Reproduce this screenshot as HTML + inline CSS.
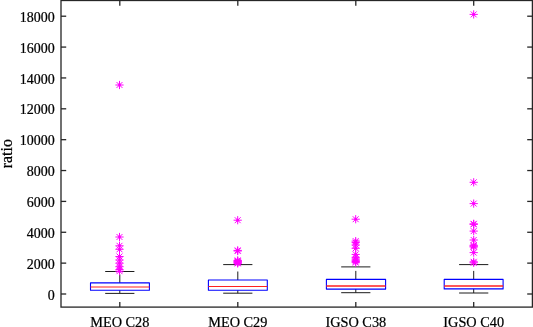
<!DOCTYPE html>
<html><head><meta charset="utf-8"><title>boxplot</title>
<style>html,body{margin:0;padding:0;background:#fff;overflow:hidden}body{width:533px;height:327px;position:relative}</style></head>
<body>
<svg width="533" height="327" viewBox="0 0 533 327" style="position:absolute;left:0;top:0;display:block">
<defs><g id="m" stroke="#ff00ff" stroke-width="1" stroke-linecap="butt" fill="none"><path d="M-4.1 0H4.1M0 -4.1V4.1M-2.95 -2.95L2.95 2.95M-2.95 2.95L2.95 -2.95"/><circle r="1.4" fill="#ff00ff" stroke="none"/></g></defs>
<rect x="0" y="0" width="533" height="327" fill="#fff"/>
<g fill="none" stroke-width="1">
<line x1="119.8" y1="282.9" x2="119.8" y2="271.5" stroke="#1c1c1c" stroke-dasharray="8.5 6"/>
<line x1="119.8" y1="290.3" x2="119.8" y2="293.4" stroke="#1c1c1c" stroke-dasharray="8.5 6"/>
<line x1="105.2" y1="271.5" x2="134.4" y2="271.5" stroke="#1c1c1c"/>
<line x1="105.2" y1="293.4" x2="134.4" y2="293.4" stroke="#1c1c1c"/>
<rect x="90.5" y="282.9" width="58.90" height="7.40" stroke="#0000ff" stroke-width="1.1" stroke-linejoin="round"/>
<line x1="90.5" y1="287.0" x2="149.4" y2="287.0" stroke="#ff2020" stroke-width="1.0"/>
</g>
<use href="#m" x="119.5" y="85.0"/>
<use href="#m" x="119.5" y="237.0"/>
<use href="#m" x="119.5" y="245.8"/>
<use href="#m" x="119.5" y="249.3"/>
<use href="#m" x="119.5" y="256.5"/>
<use href="#m" x="119.5" y="260.0"/>
<use href="#m" x="119.5" y="263.2"/>
<use href="#m" x="119.5" y="266.7"/>
<use href="#m" x="119.5" y="269.6"/>
<use href="#m" x="119.5" y="271.2"/>
<g fill="none" stroke-width="1">
<line x1="237.8" y1="280.0" x2="237.8" y2="264.6" stroke="#1c1c1c" stroke-dasharray="8.5 6"/>
<line x1="237.8" y1="290.3" x2="237.8" y2="293.2" stroke="#1c1c1c" stroke-dasharray="8.5 6"/>
<line x1="223.20000000000002" y1="264.6" x2="252.4" y2="264.6" stroke="#1c1c1c"/>
<line x1="223.20000000000002" y1="293.2" x2="252.4" y2="293.2" stroke="#1c1c1c"/>
<rect x="208.4" y="280.0" width="58.90" height="10.30" stroke="#0000ff" stroke-width="1.1" stroke-linejoin="round"/>
<line x1="208.4" y1="286.5" x2="267.3" y2="286.5" stroke="#ff2020" stroke-width="1.0"/>
</g>
<use href="#m" x="237.7" y="220.2"/>
<use href="#m" x="237.7" y="250.4"/>
<use href="#m" x="237.7" y="251.0"/>
<use href="#m" x="237.7" y="260.4"/>
<use href="#m" x="237.7" y="261.0"/>
<use href="#m" x="237.7" y="261.6"/>
<use href="#m" x="237.7" y="262.2"/>
<use href="#m" x="237.7" y="262.8"/>
<use href="#m" x="237.7" y="263.4"/>
<g fill="none" stroke-width="1">
<line x1="355.8" y1="279.4" x2="355.8" y2="266.9" stroke="#1c1c1c" stroke-dasharray="8.5 6"/>
<line x1="355.8" y1="289.1" x2="355.8" y2="292.7" stroke="#1c1c1c" stroke-dasharray="8.5 6"/>
<line x1="341.2" y1="266.9" x2="370.40000000000003" y2="266.9" stroke="#1c1c1c"/>
<line x1="341.2" y1="292.7" x2="370.40000000000003" y2="292.7" stroke="#1c1c1c"/>
<rect x="326.4" y="279.4" width="59.20" height="9.70" stroke="#0000ff" stroke-width="1.1" stroke-linejoin="round"/>
<line x1="326.4" y1="286.0" x2="385.6" y2="286.0" stroke="#ff2020" stroke-width="1.3"/>
</g>
<use href="#m" x="355.7" y="219.2"/>
<use href="#m" x="355.7" y="241.1"/>
<use href="#m" x="355.7" y="242.6"/>
<use href="#m" x="355.7" y="245.0"/>
<use href="#m" x="355.7" y="248.3"/>
<use href="#m" x="355.7" y="254.4"/>
<use href="#m" x="355.7" y="257.3"/>
<use href="#m" x="355.7" y="259"/>
<use href="#m" x="355.7" y="260.3"/>
<use href="#m" x="355.7" y="261.5"/>
<use href="#m" x="355.7" y="262.6"/>
<g fill="none" stroke-width="1">
<line x1="473.7" y1="279.4" x2="473.7" y2="264.6" stroke="#1c1c1c" stroke-dasharray="8.5 6"/>
<line x1="473.7" y1="288.9" x2="473.7" y2="293.0" stroke="#1c1c1c" stroke-dasharray="8.5 6"/>
<line x1="459.09999999999997" y1="264.6" x2="488.3" y2="264.6" stroke="#1c1c1c"/>
<line x1="459.09999999999997" y1="293.0" x2="488.3" y2="293.0" stroke="#1c1c1c"/>
<rect x="444.2" y="279.4" width="58.90" height="9.50" stroke="#0000ff" stroke-width="1.1" stroke-linejoin="round"/>
<line x1="444.2" y1="286.0" x2="503.1" y2="286.0" stroke="#ff2020" stroke-width="1.3"/>
</g>
<use href="#m" x="473.7" y="14.4"/>
<use href="#m" x="473.7" y="182.3"/>
<use href="#m" x="473.7" y="203.6"/>
<use href="#m" x="473.7" y="223.8"/>
<use href="#m" x="473.7" y="224.4"/>
<use href="#m" x="473.7" y="231.1"/>
<use href="#m" x="473.7" y="240.0"/>
<use href="#m" x="473.7" y="245.3"/>
<use href="#m" x="473.7" y="246.2"/>
<use href="#m" x="473.7" y="247.0"/>
<use href="#m" x="473.7" y="252.6"/>
<use href="#m" x="473.7" y="261.8"/>
<use href="#m" x="473.7" y="262.8"/>
<g stroke="#262626" stroke-width="1.3" fill="none">
<rect x="61.0" y="0.5" width="471.4" height="306.6"/>
<line x1="61.0" y1="294.00" x2="66.2" y2="294.00"/>
<line x1="532.4" y1="294.00" x2="527.1999999999999" y2="294.00"/>
<line x1="61.0" y1="263.13" x2="66.2" y2="263.13"/>
<line x1="532.4" y1="263.13" x2="527.1999999999999" y2="263.13"/>
<line x1="61.0" y1="232.27" x2="66.2" y2="232.27"/>
<line x1="532.4" y1="232.27" x2="527.1999999999999" y2="232.27"/>
<line x1="61.0" y1="201.41" x2="66.2" y2="201.41"/>
<line x1="532.4" y1="201.41" x2="527.1999999999999" y2="201.41"/>
<line x1="61.0" y1="170.54" x2="66.2" y2="170.54"/>
<line x1="532.4" y1="170.54" x2="527.1999999999999" y2="170.54"/>
<line x1="61.0" y1="139.68" x2="66.2" y2="139.68"/>
<line x1="532.4" y1="139.68" x2="527.1999999999999" y2="139.68"/>
<line x1="61.0" y1="108.81" x2="66.2" y2="108.81"/>
<line x1="532.4" y1="108.81" x2="527.1999999999999" y2="108.81"/>
<line x1="61.0" y1="77.94" x2="66.2" y2="77.94"/>
<line x1="532.4" y1="77.94" x2="527.1999999999999" y2="77.94"/>
<line x1="61.0" y1="47.08" x2="66.2" y2="47.08"/>
<line x1="532.4" y1="47.08" x2="527.1999999999999" y2="47.08"/>
<line x1="61.0" y1="16.21" x2="66.2" y2="16.21"/>
<line x1="532.4" y1="16.21" x2="527.1999999999999" y2="16.21"/>
<line x1="119.8" y1="307.1" x2="119.8" y2="301.90000000000003"/>
<line x1="119.8" y1="0.5" x2="119.8" y2="5.7"/>
<line x1="237.8" y1="307.1" x2="237.8" y2="301.90000000000003"/>
<line x1="237.8" y1="0.5" x2="237.8" y2="5.7"/>
<line x1="355.8" y1="307.1" x2="355.8" y2="301.90000000000003"/>
<line x1="355.8" y1="0.5" x2="355.8" y2="5.7"/>
<line x1="473.7" y1="307.1" x2="473.7" y2="301.90000000000003"/>
<line x1="473.7" y1="0.5" x2="473.7" y2="5.7"/>
</g>
<g font-family="'Liberation Serif', 'Times New Roman', serif" font-size="14.0" fill="#000" stroke="#000" stroke-width="0.22">
<text x="54.7" y="299.60" text-anchor="end">0</text>
<text x="54.7" y="268.74" text-anchor="end">2000</text>
<text x="54.7" y="237.87" text-anchor="end">4000</text>
<text x="54.7" y="207.00" text-anchor="end">6000</text>
<text x="54.7" y="176.14" text-anchor="end">8000</text>
<text x="54.7" y="145.28" text-anchor="end">10000</text>
<text x="54.7" y="114.41" text-anchor="end">12000</text>
<text x="54.7" y="83.54" text-anchor="end">14000</text>
<text x="54.7" y="52.68" text-anchor="end">16000</text>
<text x="54.7" y="21.81" text-anchor="end">18000</text>
<text x="119.8" y="327.0" text-anchor="middle" font-size="14.3">MEO C28</text>
<text x="237.8" y="327.0" text-anchor="middle" font-size="14.3">MEO C29</text>
<text x="355.8" y="327.0" text-anchor="middle" font-size="14.3">IGSO C38</text>
<text x="473.7" y="327.0" text-anchor="middle" font-size="14.3">IGSO C40</text>
<text transform="translate(11.8 153.7) rotate(-90)" text-anchor="middle" font-size="15.8">ratio</text>
</g>
</svg>
</body></html>
